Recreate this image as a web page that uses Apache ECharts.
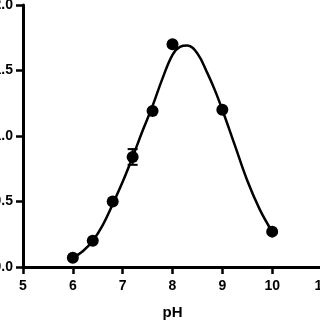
<!DOCTYPE html>
<html><head><meta charset="utf-8">
<script src="https://cdn.jsdelivr.net/npm/echarts@6/dist/echarts.min.js"></script>
<style>html,body{margin:0;padding:0;background:#fff}#c{width:320px;height:320px}</style>
</head><body><div id="c"></div>
<script>
var pH = [6.0, 6.4, 6.8, 7.2, 7.6, 8.0, 9.0, 10.0];
var activity = [0.07, 0.20, 0.50, 0.84, 1.19, 1.70, 1.20, 0.27];
var errors = [0, 0, 0, 0.06, 0, 0, 0, 0];
var fitX = [6.0, 6.2, 6.4, 6.6, 6.8, 7.0, 7.2, 7.4, 7.6, 7.8, 8.0, 8.15, 8.3, 8.5, 8.7, 8.85, 9.0, 9.25, 9.5, 9.75, 10.0];
var fitY = [0.07, 0.12, 0.20, 0.32, 0.48, 0.65, 0.84, 1.04, 1.23, 1.44, 1.62, 1.68, 1.69, 1.63, 1.48, 1.35, 1.20, 0.93, 0.66, 0.44, 0.27];
var xTicks = [5, 6, 7, 8, 9, 10, 11];
var yTicks = [0, 0.5, 1.0, 1.5, 2.0];

var chart = echarts.init(document.getElementById('c'));
var pts = pH.map(function(x, i){ return [x, activity[i]]; });
var fit = fitX.map(function(x, i){ return [x, fitY[i]]; });
var err = pH.map(function(x, i){ return [x, activity[i] - errors[i], activity[i] + errors[i]]; }).filter(function(d, i){ return errors[i] > 0; });
var font = 'Liberation Sans, Arial, sans-serif';
chart.setOption({
  animation: false,
  grid: {left: 23, top: 5, width: 299, height: 262, containLabel: false, outerBoundsMode: 'none'},
  xAxis: {
    type: 'value', min: xTicks[0], max: xTicks[xTicks.length-1], interval: 1,
    name: 'pH', nameLocation: 'middle', nameGap: 38,
    nameTextStyle: {color: '#000', fontSize: 15, fontWeight: 'bold', fontFamily: font},
    axisLine: {show: true, lineStyle: {color: '#000', width: 3}},
    axisTick: {show: true, length: 7, lineStyle: {color: '#000', width: 2.5}},
    axisLabel: {color: '#000', fontSize: 14, fontWeight: 'bold', fontFamily: font, margin: 12, showMaxLabel: true, hideOverlap: false},
    splitLine: {show: false}
  },
  yAxis: {
    type: 'value', min: yTicks[0], max: yTicks[yTicks.length-1], interval: 0.5,
    axisLine: {show: true, lineStyle: {color: '#000', width: 3}},
    axisTick: {show: true, length: 7, lineStyle: {color: '#000', width: 2.5}},
    axisLabel: {color: '#000', fontSize: 14, fontWeight: 'bold', fontFamily: font, margin: 10,
      formatter: function(v){ return v.toFixed(1); }},
    splitLine: {show: false}
  },
  series: [
    {type: 'line', data: fit, smooth: 0.4, symbol: 'none', lineStyle: {color: '#000', width: 2.5}, z: 2},
    {type: 'custom', data: err, z: 3,
      renderItem: function(params, api){
        var x = api.value(0);
        var lo = api.coord([x, api.value(1)]);
        var hi = api.coord([x, api.value(2)]);
        var s = {stroke: '#000', lineWidth: 2};
        return {type: 'group', children: [
          {type: 'line', shape: {x1: lo[0], y1: lo[1], x2: hi[0], y2: hi[1]}, style: s},
          {type: 'line', shape: {x1: lo[0]-5, y1: lo[1], x2: lo[0]+5, y2: lo[1]}, style: s},
          {type: 'line', shape: {x1: hi[0]-5, y1: hi[1], x2: hi[0]+5, y2: hi[1]}, style: s}
        ]};
      }},
    {type: 'scatter', data: pts, symbol: 'circle', symbolSize: 12, itemStyle: {color: '#000', opacity: 1}, z: 4}
  ]
});
</script></body></html>
